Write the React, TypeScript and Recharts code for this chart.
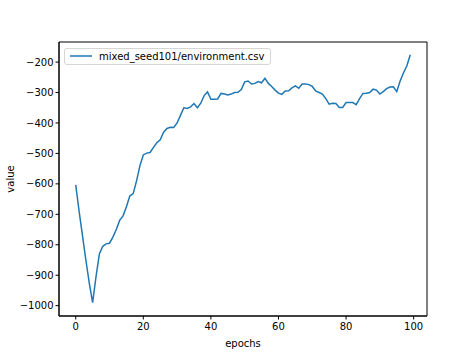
import React from "react";
import {
  LineChart,
  Line,
  XAxis,
  YAxis,
  Legend,
  ReferenceArea,
} from "recharts";

const epochs: number[] = Array.from({ length: 100 }, (_, i) => i);

const envValues: number[] = [
  -603, -690, -770, -850, -925, -990, -905, -830, -805, -797,
  -795, -775, -750, -720, -705, -675, -640, -632, -590, -540,
  -505, -499, -497, -480, -465, -455, -430, -418, -414, -415,
  -400, -375, -350, -352, -347, -336, -350, -335, -310, -298,
  -322, -322, -321, -303, -305, -308, -305, -300, -299, -290,
  -265, -262, -272, -270, -264, -268, -253, -270, -280, -292,
  -302, -306, -295, -294, -285, -278, -286, -272, -272, -274,
  -280, -295, -300, -305, -320, -338, -335, -336, -349, -349,
  -333, -333, -333, -340, -320, -303, -302, -300, -289, -292,
  -305, -297, -287, -282, -281, -297, -262, -235, -212, -176,
];

const xTicks = [0, 20, 40, 60, 80, 100];
const yTicks = [-1000, -900, -800, -700, -600, -500, -400, -300, -200];

const seriesName = "mixed_seed101/environment.csv";

const data = epochs.map((e, i) => ({ epoch: e, value: envValues[i] }));

const X_DOMAIN: [number, number] = [-4.95, 103.95];
const Y_DOMAIN: [number, number] = [-1034, -134];

const font = "'DejaVu Sans', sans-serif";
const fmt = (v: number) => String(v).replace("-", "\u2212");

const LegendBox = () => (
  <div
    style={{
      display: "inline-flex",
      alignItems: "center",
      border: "1px solid #d6d6d6",
      borderRadius: 3,
      background: "rgba(255,255,255,0.8)",
      padding: "2px 6px 2px 5px",
      fontFamily: font,
      fontSize: 10,
      color: "#000",
    }}
  >
    <svg width={22} height={10} style={{ marginRight: 7 }}>
      <line x1={0} y1={5} x2={22} y2={5} stroke="#1f77b4" strokeWidth={1.5} />
    </svg>
    <span>{seriesName}</span>
  </div>
);

export default function App() {
  return (
    <div style={{ position: "fixed", left: 0, top: 0, background: "#fff" }}>
      <LineChart
        width={474}
        height={355}
        data={data}
        margin={{ top: 42, right: 47, bottom: 0, left: 0 }}
      >
        <XAxis
          dataKey="epoch"
          type="number"
          domain={X_DOMAIN}
          ticks={xTicks}
          allowDataOverflow
          height={39}
          tickSize={3.5}
          tickMargin={3}
          stroke="#000"
          tick={{ fill: "#000", fontSize: 10, fontFamily: font }}
          label={{
            value: "epochs",
            position: "insideBottom",
            offset: 8,
            fill: "#000",
            fontSize: 10,
            fontFamily: font,
          }}
        />
        <YAxis
          type="number"
          domain={Y_DOMAIN}
          ticks={yTicks}
          allowDataOverflow
          width={59}
          tickSize={3.5}
          tickMargin={2}
          tickFormatter={fmt}
          stroke="#000"
          tick={{ fill: "#000", fontSize: 10, fontFamily: font }}
          label={{
            value: "value",
            angle: -90,
            position: "insideLeft",
            offset: 10,
            fill: "#000",
            fontSize: 10,
            fontFamily: font,
            style: { textAnchor: "middle" },
          }}
        />
        <ReferenceArea
          x1={X_DOMAIN[0]}
          x2={X_DOMAIN[1]}
          y1={Y_DOMAIN[0]}
          y2={Y_DOMAIN[1]}
          fill="none"
          stroke="#000"
          strokeWidth={1}
          ifOverflow="visible"
        />
        <Legend
          layout="horizontal"
          verticalAlign="middle"
          align="center"
          content={<LegendBox />}
          wrapperStyle={{ top: 47, left: 64, width: "auto" }}
        />
        <Line
          type="linear"
          dataKey="value"
          name={seriesName}
          stroke="#1f77b4"
          strokeWidth={1.5}
          dot={false}
          isAnimationActive={false}
        />
      </LineChart>
    </div>
  );
}
